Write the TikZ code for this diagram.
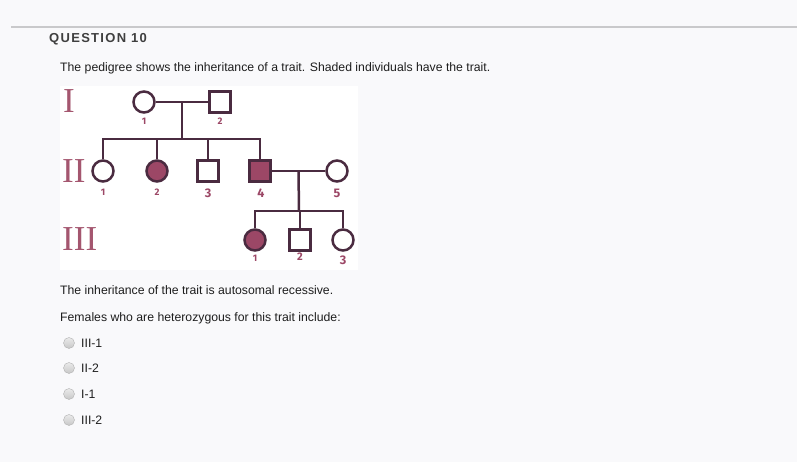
\documentclass[tikz,border=0pt]{standalone}
\usepackage{fontspec}
\setmainfont{Liberation Sans}
\newfontfamily\gennumfont{Liberation Serif}
\newfontfamily\idfont{Fira Sans}
\usetikzlibrary{calc}
\definecolor{pageback}{HTML}{F9F9FB}
\definecolor{rulegray}{HTML}{C9C9CB}
\definecolor{pedline}{HTML}{4A2B40}
\definecolor{traitfill}{HTML}{9C4766}
\definecolor{gencol}{HTML}{A4566F}
\definecolor{qtext}{HTML}{3F3F3F}
\definecolor{bodytext}{HTML}{1E1E1E}
\tikzset{>=latex,
  female/.style={circle,draw=pedline,line width=2.5pt,fill=white,minimum size=21pt,inner sep=0pt},
  male/.style={rectangle,draw=pedline,line width=2.5pt,fill=white,minimum size=21pt,inner sep=0pt},
  affected/.style={fill=traitfill},
  kin/.style={draw=pedline,line width=2.5pt},
  idlab/.style={text=traitfill,inner sep=0pt,font=\idfont\bfseries\fontsize{9.5}{9.5}\selectfont},
  bigid/.style={idlab,font=\idfont\bfseries\fontsize{12.5}{12.5}\selectfont},
  gennum/.style={anchor=base west,inner sep=0pt,text=gencol,font=\gennumfont\fontsize{35}{35}\selectfont},
  bodyline/.style={anchor=base west,inner sep=0pt,text=bodytext,font=\fontsize{12.25}{14}\selectfont},
  radio/.style={circle,draw=black!30,top color=black!8,bottom color=black!22,minimum size=11pt,inner sep=0pt}
}

\begin{document}
\begin{tikzpicture}[x=1pt,y=-1pt]
	\fill[pageback] (0,0) rectangle (797,462);
	\useasboundingbox (0,0) rectangle (797,462);
	\draw[rulegray,line width=1.2pt] (11,27) -- (797,27);
	\node[anchor=base west,inner sep=0pt,text=qtext,font=\bfseries\fontsize{13}{13}\selectfont\addfontfeature{LetterSpace=10}] (qtitle) at (49,43) {QUESTION 10};
	\node[bodyline] (intro) at (60,71.5) {The pedigree shows the inheritance of a trait. Shaded individuals have the trait.};
	\fill[white] (60,86) rectangle (358,270);
	\node[gennum] (gen1) at (63,113) {I};
	\node[gennum] (gen2) at (62,183) {II};
	\node[gennum] (gen3) at (62,251) {III};
	\node[female] (i1) at (144,102) {};
	\node[male] (i2) at (220,102) {};
	\node[female] (ii1) at (103,171) {};
	\node[female,affected] (ii2) at (157,171) {};
	\node[male] (ii3) at (208,171) {};
	\node[male,affected] (ii4) at (260,171) {};
	\node[female] (ii5) at (337,171) {};
	\node[female,affected] (iii1) at (255,240) {};
	\node[male] (iii2) at (300,240) {};
	\node[female] (iii3) at (343,240) {};
	\coordinate (mate1) at ($(i1)!0.5!(i2)$);
	\coordinate (sib1) at (182,139);
	\coordinate (mate2) at ($(ii4)!0.5!(ii5)$);
	\coordinate (sib2) at (299,211);
	\draw[kin] (i1) -- (i2);
	\draw[kin] (mate1) -- (sib1);
	\draw[kin] (ii1.north) |- (sib1) -| (ii4.north);
	\draw[kin] (ii2.north) -- (ii2 |- sib1);
	\draw[kin] (ii3.north) -- (ii3 |- sib1);
	\draw[kin] (ii4) -- (ii5);
	\draw[kin] (mate2) -- (sib2);
	\draw[kin] (iii1.north) |- (sib2) -| (iii3.north);
	\draw[kin] (iii2.north) -- (iii2 |- sib2);
	\node[idlab] (i1n) at (144,121) {1};
	\node[idlab] (i2n) at (220,121) {2};
	\node[idlab] (ii1n) at (103,192) {1};
	\node[idlab] (ii2n) at (157,192) {2};
	\node[bigid] (ii3n) at (208,193) {3};
	\node[bigid] (ii4n) at (261,193) {4};
	\node[bigid] (ii5n) at (337,193) {5};
	\node[idlab] (iii1n) at (255,258) {1};
	\node[idlab,font=\idfont\bfseries\fontsize{11}{11}\selectfont] (iii2n) at (300,257) {2};
	\node[bigid] (iii3n) at (343,260) {3};
	\node[bodyline] (claim) at (60,294) {The inheritance of the trait is autosomal recessive.};
	\node[bodyline] (prompt) at (60,321) {Females who are heterozygous for this trait include:};
	\node[radio] (r1) at (69,343) {};
	\node[radio] (r2) at (69,368) {};
	\node[radio] (r3) at (69,394) {};
	\node[radio] (r4) at (69,420) {};
	\node[bodyline] (a1) at (81,347) {III-1};
	\node[bodyline] (a2) at (81,372) {II-2};
	\node[bodyline] (a3) at (81,398) {I-1};
	\node[bodyline] (a4) at (81,424) {III-2};
\end{tikzpicture}
\end{document}
